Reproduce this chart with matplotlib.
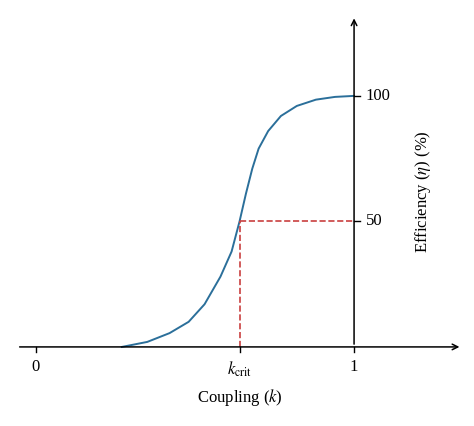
import matplotlib
matplotlib.use("Agg")
import matplotlib.pyplot as plt
import numpy as np

k = [0.27, 0.35, 0.42, 0.48, 0.53, 0.58, 0.615, 0.64, 0.66, 0.68, 0.70, 0.73, 0.77, 0.82, 0.88, 0.94, 1.0]
eff = [0, 2, 5.5, 10, 17, 28, 38, 50, 61, 71, 79, 86, 92, 96, 98.5, 99.6, 100]
k_crit = 0.64
xtick_labels = ["0", "$k_{\\mathrm{crit}}$", "1"]
ytick_vals = [50, 100]

plt.rcParams['font.family'] = ['Liberation Serif', 'DejaVu Serif']
plt.rcParams['mathtext.fontset'] = 'stix'
fig = plt.figure(figsize=(4.74, 4.26), dpi=100)
ax = fig.add_axes([0, 0, 1, 1])
ax.set_xlim(-0.113, 1.377)
ax.set_ylim(-31.5, 138.2)
ax.axis('off')

ax.plot(k, eff, color='#2b6f9a', lw=1.4)
ax.plot([k_crit, k_crit], [0, 50], ls='--', color='#c9403f', lw=1.2)
ax.plot([k_crit, 1], [50, 50], ls='--', color='#c9403f', lw=1.2)

ax.annotate('', xy=(1.34, 0), xytext=(-0.06, 0),
            arrowprops=dict(arrowstyle='->', lw=1.1, color='black'))
ax.annotate('', xy=(1, 132), xytext=(1, 0),
            arrowprops=dict(arrowstyle='->', lw=1.1, color='black'))
for xv in [0, k_crit, 1]:
    ax.plot([xv, xv], [0, -2], color='black', lw=1)
for yv in ytick_vals:
    ax.plot([1, 1.02], [yv, yv], color='black', lw=1)
    ax.text(1.037, yv, str(yv), ha='left', va='center', fontsize=12)
for xv, lab in zip([0, k_crit, 1], xtick_labels):
    ax.text(xv, -5, lab, ha='center', va='top', fontsize=12)
ax.text(k_crit, -16, "Coupling ($k$)", ha='center', va='top', fontsize=12)
ax.text(1.217, 62, "Efficiency ($\\eta$) (%)", rotation=90, ha='center', va='center', fontsize=12)

fig.savefig("out.png", dpi=100)
